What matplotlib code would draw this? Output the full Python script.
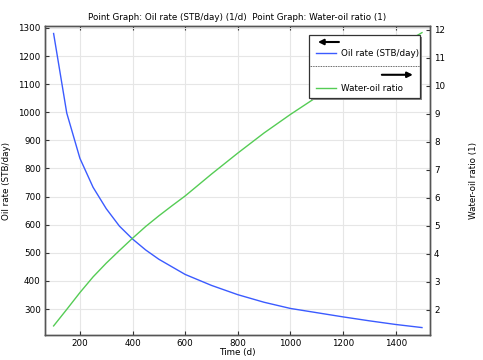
import matplotlib
matplotlib.use('Agg')
import matplotlib.pyplot as plt
from matplotlib.patches import Rectangle
from matplotlib.lines import Line2D

# time (d)
time_d = [100, 150, 200, 250, 300, 350, 400, 450, 500, 550, 600,
          700, 800, 900, 1000, 1100, 1200, 1300, 1400, 1500]
# oil rate (STB/day), left axis
oil_rate = [1280, 997, 836, 733, 657, 595, 549, 510, 477, 450, 423,
            384, 351, 324, 302, 287, 272, 258, 245, 234]
# water-oil ratio (1), right axis
wor = [1.43, 2.02, 2.62, 3.18, 3.67, 4.12, 4.56, 4.98, 5.36, 5.72, 6.07,
       6.85, 7.6, 8.32, 8.98, 9.6, 10.2, 10.8, 11.35, 11.9]

x_ticks = [200, 400, 600, 800, 1000, 1200, 1400]
oil_ticks = [300, 400, 500, 600, 700, 800, 900, 1000, 1100, 1200, 1300]
wor_ticks = [2, 3, 4, 5, 6, 7, 8, 9, 10, 11, 12]

blue = '#3b5bff'
green = '#55cc55'
fs = 6.3

fig = plt.figure(figsize=(4.83, 3.6), dpi=100)
ax = fig.add_axes([0.093, 0.069, 0.797, 0.859])
ax2 = ax.twinx()

ax.plot(time_d, oil_rate, color=blue, lw=1.0)
ax2.plot(time_d, wor, color=green, lw=1.0)

ax.set_xlim(67, 1530)
ax.set_ylim(207, 1307)
ax2.set_ylim(1.1, 12.14)

ax.set_xticks(x_ticks)
ax.set_yticks(oil_ticks)
ax2.set_yticks(wor_ticks)
ax.grid(True, color='#e6e6e6', lw=0.8)
ax.set_axisbelow(True)

ax.tick_params(direction='in', top=True, labelsize=fs, length=3, color='#333333', pad=3)
ax2.tick_params(direction='in', labelsize=fs, length=3, color='#333333', pad=3)
for a in (ax, ax2):
    for s in a.spines.values():
        s.set_color('#555555')
        s.set_linewidth(1.0)

ax.set_xlabel('Time (d)', fontsize=fs, labelpad=0)
ax.set_ylabel('Oil rate (STB/day)', fontsize=fs, labelpad=5)
ax2.set_ylabel('Water-oil ratio (1)', fontsize=fs, labelpad=17)
ax.set_title('Point Graph: Oil rate (STB/day) (1/d)  Point Graph: Water-oil ratio (1)',
             fontsize=fs, pad=4)

# hand-made legend with direction arrows
tr = ax2.transAxes
x0, x1, y0, y1 = 0.686, 0.974, 0.767, 0.972
ax2.add_patch(Rectangle((x0 + 0.006, y0 - 0.008), x1 - x0, y1 - y0, transform=tr,
                        facecolor='#888888', edgecolor='none', zorder=9, clip_on=False))
ax2.add_patch(Rectangle((x0, y0), x1 - x0, y1 - y0, transform=tr,
                        facecolor='white', edgecolor='#333333', lw=0.9, zorder=10, clip_on=False))
ax2.annotate('', xy=(0.702, 0.948), xytext=(0.771, 0.948), xycoords=tr,
             arrowprops=dict(arrowstyle='-|>', color='black', lw=1.5, mutation_scale=8),
             zorder=11)
ax2.add_line(Line2D([0.704, 0.757], [0.912, 0.912], transform=tr, color=blue, lw=1.0, zorder=11))
ax2.text(0.768, 0.912, 'Oil rate (STB/day)', transform=tr, fontsize=fs, va='center', zorder=11)
ax2.add_line(Line2D([x0, x1], [0.871, 0.871], transform=tr, color='#333333', lw=0.6,
                    ls=(0, (1, 1)), zorder=11))
ax2.annotate('', xy=(0.963, 0.842), xytext=(0.868, 0.842), xycoords=tr,
             arrowprops=dict(arrowstyle='-|>', color='black', lw=1.5, mutation_scale=8),
             zorder=11)
ax2.add_line(Line2D([0.704, 0.757], [0.799, 0.799], transform=tr, color=green, lw=1.0, zorder=11))
ax2.text(0.768, 0.799, 'Water-oil ratio', transform=tr, fontsize=fs, va='center', zorder=11)

fig.savefig('out.png', dpi=100)
